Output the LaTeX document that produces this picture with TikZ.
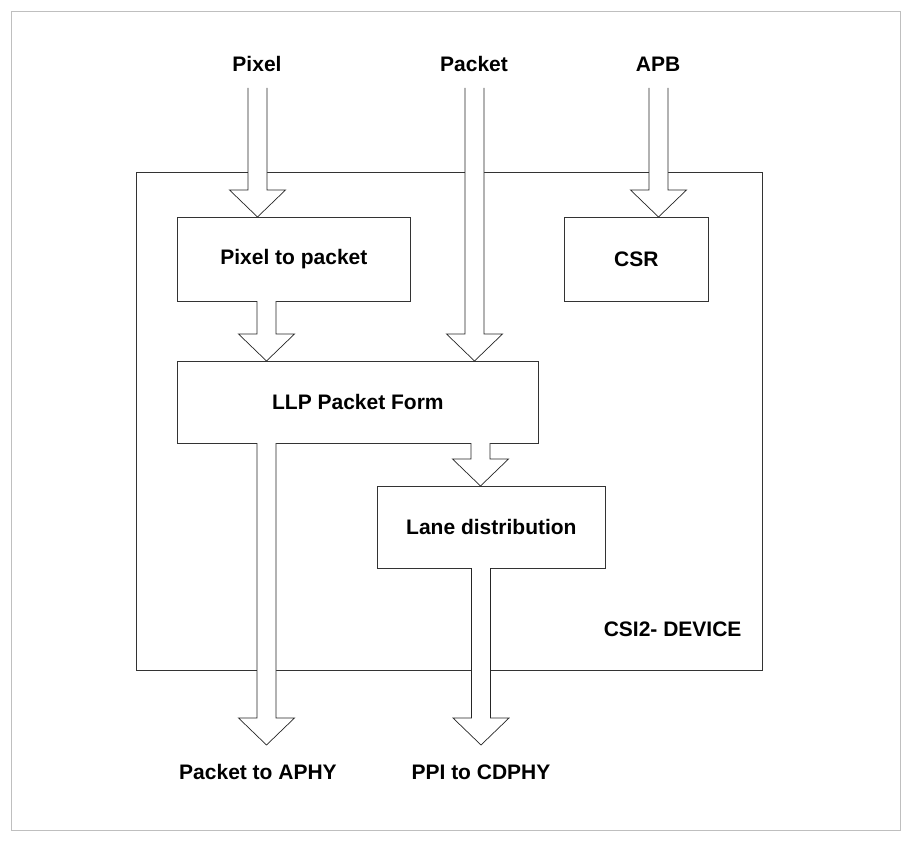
\documentclass[tikz,border=0pt]{standalone}
\usepackage{fontspec}
\setmainfont{Liberation Sans}
\begin{document}
\begin{tikzpicture}[x=1pt,y=-1pt,
  box/.style={draw=black!80,line width=0.8pt,fill=white,inner sep=0pt},
  lbl/.style={font=\bfseries\fontsize{21}{24}\selectfont},
  blk/.style={draw=black!85,line width=0.7pt,fill=white,line join=miter}]
\newcommand{\blockarrow}[3]{% center x, start y, tip y
  \draw[blk] (#1-9.5,#2) -- (#1-9.5,#3-27) -- (#1-28,#3-27) -- (#1,#3) -- (#1+28,#3-27) -- (#1+9.5,#3-27) -- (#1+9.5,#2);}
\useasboundingbox (0,0) rectangle (912,845);
\draw[black!25,line width=0.8pt] (11,11) rectangle (900,830);
\node[box,minimum width=626pt,minimum height=498pt,anchor=north west] (dev) at (136,172) {};
\node[lbl,anchor=south east] (devl) at (745,640) {CSI2- DEVICE};
\node[box,minimum width=233pt,minimum height=84pt,anchor=north west] (p2p) at (177,217) {};
\node[lbl] at (p2p.center) {Pixel to packet};
\node[box,minimum width=144pt,minimum height=84pt,anchor=north west] (csr) at (564,217) {};
\node[lbl] at (csr.center) {CSR};
\node[box,minimum width=361pt,minimum height=82pt,anchor=north west] (llp) at (177,361) {};
\node[lbl] at (llp.center) {LLP Packet Form};
\node[box,minimum width=228pt,minimum height=82pt,anchor=north west] (lane) at (377,486) {};
\node[lbl] at (lane.center) {Lane distribution};
\node[lbl] (pix) at (257,64) {Pixel};
\node[lbl] (pkt) at (474,64) {Packet};
\node[lbl] (apb) at (658,64) {APB};
\node[lbl] (aphy) at (258,772) {Packet to APHY};
\node[lbl] (cdphy) at (481,772) {PPI to CDPHY};
\blockarrow{257.5}{88}{217}
\blockarrow{474.5}{88}{361}
\blockarrow{658.5}{88}{217}
\blockarrow{266.5}{301}{361}
\blockarrow{480.5}{443}{486}
\blockarrow{266.5}{443}{745}
\blockarrow{481}{568}{745}
\end{tikzpicture}
\end{document}
